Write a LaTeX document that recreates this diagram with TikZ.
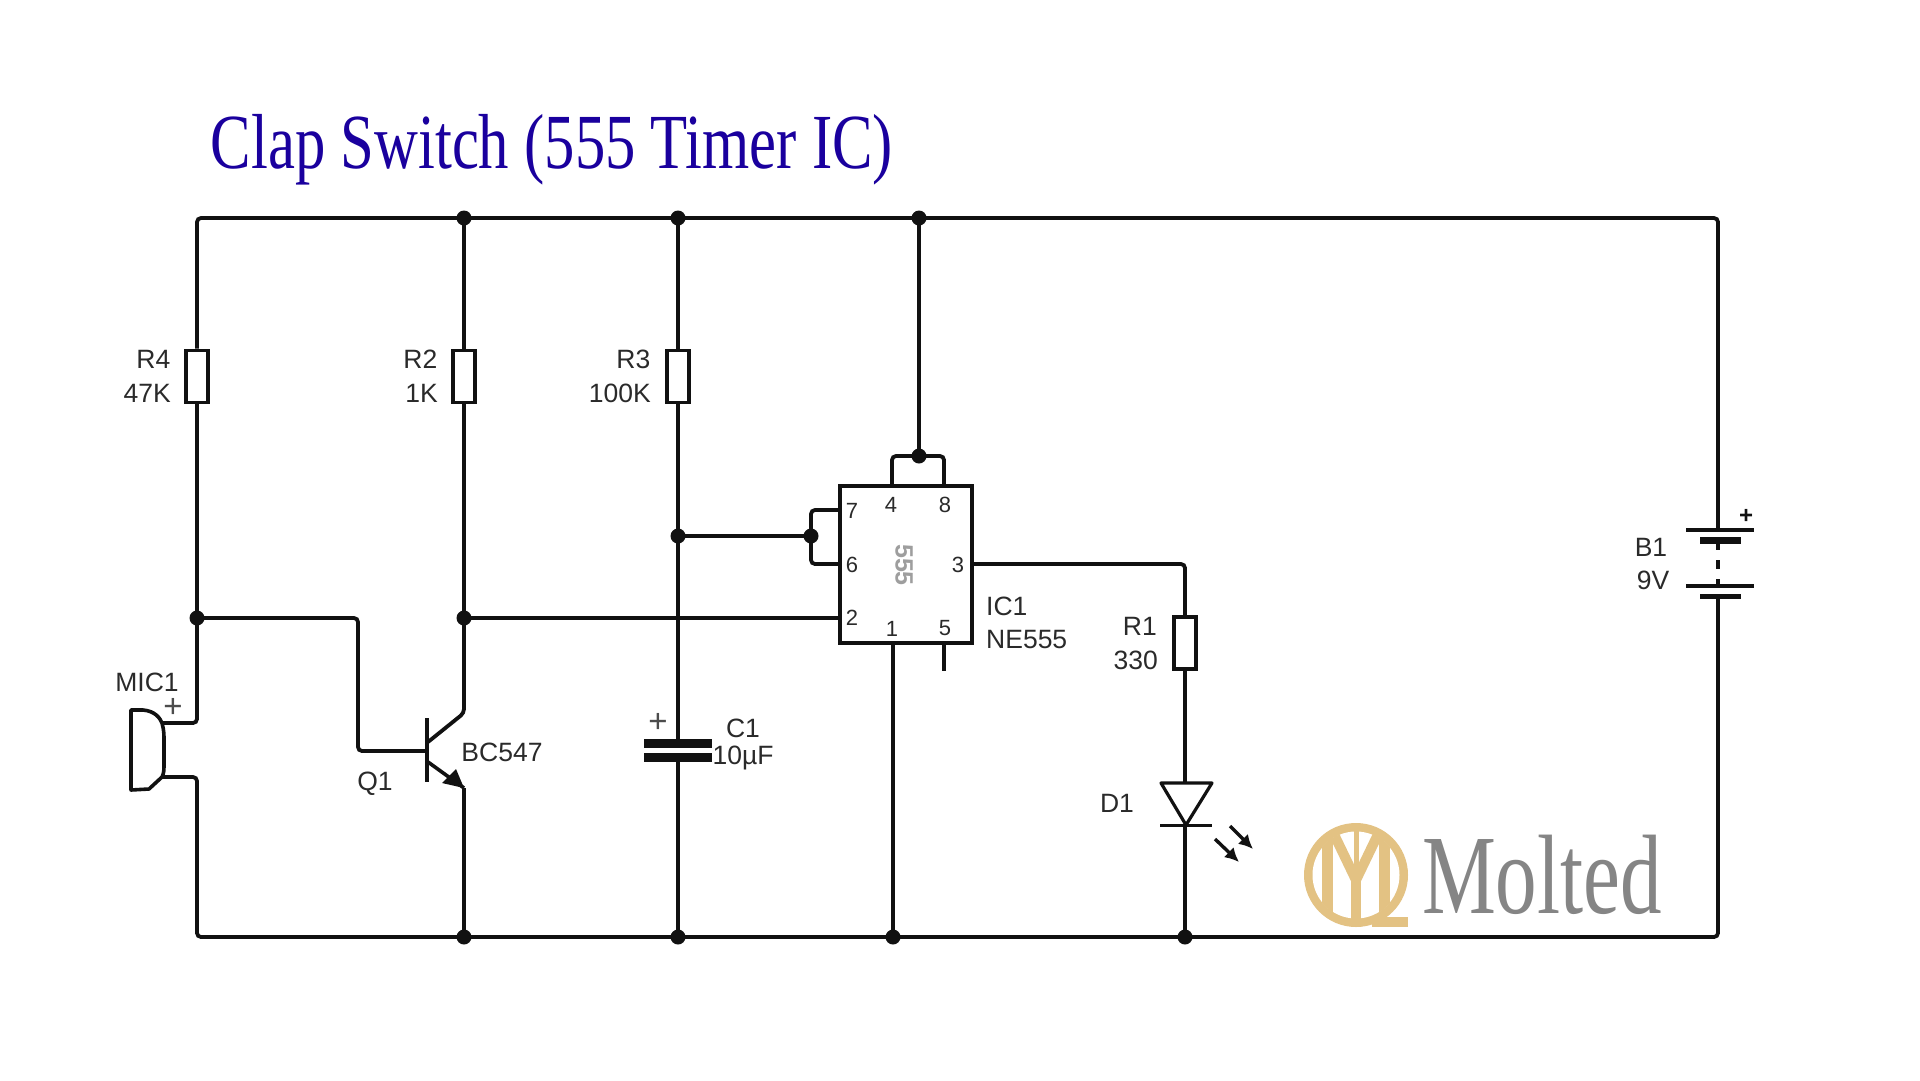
\documentclass[tikz,border=0pt]{standalone}
\usepackage{fontspec}
\setmainfont{Liberation Sans}
\newfontfamily\titlefont{Liberation Serif}
\usetikzlibrary{arrows.meta}
\definecolor{inkc}{HTML}{111111}
\definecolor{labelc}{HTML}{2A2A2A}
\definecolor{titlec}{HTML}{1A009E}
\definecolor{goldc}{HTML}{E3C283}
\definecolor{brandc}{HTML}{858585}
\tikzset{
  wire/.style={draw=inkc,line width=3.8pt,rounded corners=4pt},
  dotnode/.style={circle,fill=inkc,draw=none,inner sep=0pt,minimum size=15pt},
  resbox/.style={rectangle,draw=inkc,fill=white,line width=3.6pt,inner sep=0pt,minimum width=22pt,minimum height=52pt},
  lab/.style={text=labelc,inner sep=0pt,font=\fontsize{26.5}{30}\selectfont},
  pinlab/.style={text=labelc,inner sep=0pt,font=\fontsize{22}{24}\selectfont},
  pluslab/.style={text=black!70,inner sep=0pt,font=\fontsize{33}{33}\selectfont},
  plate/.style={draw=inkc,line cap=butt},
}
\begin{document}
\begin{tikzpicture}[x=1pt,y=-1pt]
\useasboundingbox (0,0) rectangle (1920,1080);
\fill[white] (0,0) rectangle (1920,1080);

% title
\node[anchor=base,inner sep=0pt,text=titlec] (title) at (552,168) {\titlefont\fontsize{78}{90}\selectfont\scalebox{.778}[1]{Clap Switch (555 Timer IC)}};

% frame corners
\coordinate (tl) at (197,218);
\coordinate (tr) at (1718,218);
\coordinate (bl) at (197,937);
\coordinate (br) at (1718,937);

% junctions
\node[dotnode] (jt2) at (464,218) {};
\node[dotnode] (jt3) at (678,218) {};
\node[dotnode] (jt4) at (919,218) {};
\node[dotnode] (jb2) at (464,937) {};
\node[dotnode] (jb3) at (678,937) {};
\node[dotnode] (jb1) at (893,937) {};
\node[dotnode] (jb5) at (1185,937) {};
\node[dotnode] (jm1) at (197,618) {};
\node[dotnode] (jm2) at (464,618) {};
\node[dotnode] (jm3) at (678,536) {};
\node[dotnode] (jp76) at (811,536) {};
\node[dotnode] (jp48) at (919,456) {};

% resistors
\node[resbox] (R4) at (197,376.5) {};
\node[resbox] (R2) at (464,376.5) {};
\node[resbox] (R3) at (678,376.5) {};
\node[resbox] (R1) at (1185,643) {};
\node[lab,anchor=east] (tR4) at (170.5,359.5) {R4};
\node[lab,anchor=east] (vR4) at (171,393) {47K};
\node[lab,anchor=east] (tR2) at (437.5,359.5) {R2};
\node[lab,anchor=east] (vR2) at (438,393) {1K};
\node[lab,anchor=east] (tR3) at (650.5,359.5) {R3};
\node[lab,anchor=east] (vR3) at (651,393) {100K};
\node[lab,anchor=east] (tR1) at (1157,626.5) {R1};
\node[lab,anchor=east] (vR1) at (1158,660) {330};

% IC
\node[rectangle,draw=inkc,fill=white,line width=3.6pt,inner sep=0pt,minimum width=132pt,minimum height=157pt] (IC) at (906,564.5) {};
\coordinate (p4) at (892,486);
\coordinate (p8) at (944,486);
\coordinate (p7) at (840,510);
\coordinate (p6) at (840,564);
\coordinate (p2) at (840,618);
\coordinate (p3) at (972,564);
\coordinate (p1) at (893,643);
\coordinate (p5) at (944,643);
\coordinate (p5e) at (944,671);
\node[pinlab] (n7) at (852,511) {7};
\node[pinlab] (n6) at (852,565) {6};
\node[pinlab] (n2) at (852,618) {2};
\node[pinlab] (n4) at (891,505) {4};
\node[pinlab] (n8) at (945,505) {8};
\node[pinlab] (n1) at (892,629) {1};
\node[pinlab] (n5) at (945,628) {5};
\node[pinlab] (n3) at (958,565) {3};
\node[inner sep=0pt,rotate=-90,text=black!38,font=\bfseries\fontsize{25}{25}\selectfont] (n555) at (904,565) {555};
\node[lab,anchor=west] (tIC) at (986,606) {IC1};
\node[lab,anchor=west] (vIC) at (986,640) {NE555};

% rails
\draw[wire] (R4.north) -- (tl) -- (tr) -- (1718,530);
\draw[wire] (R2.north) -- (jt2.center);
\draw[wire] (R3.north) -- (jt3.center);
\draw[wire] (jt4.center) -- (jp48.center);
\draw[wire] (jp48.center) -| (p4);
\draw[wire] (jp48.center) -| (p8);
\draw[wire] (R4.south) -- (jm1.center);
\draw[wire] (R2.south) -- (jm2.center);
\draw[wire] (R3.south) -- (jm3.center);
\draw[wire] (jm3.center) -- (jp76.center);
\draw[wire] (jp76.center) |- (p7);
\draw[wire] (jp76.center) |- (p6);
\draw[wire] (jm2.center) -- (p2);
\draw[wire] (p3) -| (R1.north);
\draw[wire] (p1) -- (jb1.center);
\draw[wire] (p5) -- (p5e);

% microphone
\coordinate (micu) at (162,723);
\coordinate (micl) at (163,777);
\draw[wire] (jm1.center) |- (micu);
\draw[wire] (micl) -| (bl) -- (br) -- (1718,596);
\draw[draw=inkc,line width=3.6pt,line join=round] (131,710) -- (143,710) .. controls (155,711) and (160,718) .. (162,723) .. controls (164,730) and (164,735) .. (164,740) -- (164,763) .. controls (164,770) and (164,773) .. (162,777) -- (149,789) -- (131,790) -- cycle;
\node[pluslab] (mp) at (173,708) {+};
\node[lab] (tM) at (147,682) {MIC1};

% transistor
\coordinate (bw) at (358,751);
\coordinate (bb) at (427,751);
\coordinate (bt) at (427,718);
\coordinate (bd) at (427,782);
\coordinate (ci) at (428,742);
\coordinate (cj) at (464,713);
\coordinate (ei) at (428,762);
\coordinate (ej) at (464,788);
\coordinate (eh1) at (442,783);
\coordinate (eh2) at (456,769);
\draw[wire] (jm1.center) -| (bw) -- (bb);
\draw[draw=inkc,line width=3.8pt] (bt) -- (bd);
\draw[wire] (jm2.center) -- (cj) -- (ci);
\draw[draw=inkc,line width=3.6pt] (ei) -- (ej);
\fill[inkc] (ej) -- (eh1) -- (eh2) -- cycle;
\draw[wire] (ej) -- (jb2.center);
\node[lab] (tQ) at (375,784) {Q1};
\node[lab] (vQ) at (502,752) {BC547};

% capacitor
\coordinate (c1a) at (678,743);
\coordinate (c1b) at (678,757);
\draw[wire] (jm3.center) -- (c1a);
\draw[wire] (c1b) -- (jb3.center);
\draw[plate,line width=9pt] (644,743) -- (712,743);
\draw[plate,line width=9pt] (644,757.5) -- (712,757.5);
\node[pluslab] (cp) at (658,723) {+};
\node[lab] (tC) at (743,728) {C1};
\node[lab] (vC) at (743,758) {10µF};

% LED
\coordinate (da) at (1185,783);
\coordinate (dk) at (1185,825);
\draw[wire] (R1.south) -- (da);
\draw[draw=inkc,fill=white,line width=3.2pt,line join=round] (1161,783) -- (1212,783) -- (1186,825) -- cycle;
\draw[plate,line width=3.6pt] (1160,825.5) -- (1212,825.5);
\draw[wire] (dk) -- (jb5.center);
\node[lab] (tD) at (1117,803) {D1};
\coordinate (a1s) at (1230,826);
\coordinate (a1e) at (1253,849);
\coordinate (a2s) at (1215,839);
\coordinate (a2e) at (1239,862);
\draw[draw=inkc,line width=3.4pt,-{Latex[length=14pt,width=14pt]}] (a1s) -- (a1e);
\draw[draw=inkc,line width=3.4pt,-{Latex[length=14pt,width=14pt]}] (a2s) -- (a2e);

% battery
\draw[plate,line width=3.2pt] (1686,530) -- (1754,530);
\draw[plate,line width=7pt] (1700,540) -- (1741,540);
\draw[plate,line width=3.6pt] (1718,540) -- (1718,550);
\draw[plate,line width=3.6pt] (1718,560) -- (1718,569);
\draw[plate,line width=3.6pt] (1718,579) -- (1718,586);
\draw[plate,line width=3.2pt] (1686,586) -- (1754,586);
\draw[plate,line width=5pt] (1700,596) -- (1741,596);
\node[inner sep=0pt,text=inkc,font=\bfseries\fontsize{24}{24}\selectfont] (bp) at (1746,516) {+};
\node[lab] (tB) at (1651,547) {B1};
\node[lab] (vB) at (1653,580) {9V};

% brand
\begin{scope}
\fill[goldc] (1356,875) circle[radius=52];
\fill[goldc] (1372,917) rectangle (1408,926.5);
\fill[white] (1356,875) circle[radius=43.5];
\clip (1356,875) circle[radius=44];
\fill[goldc] (1322,825) rectangle (1333,925);
\fill[goldc] (1379,825) rectangle (1390,925);
\fill[goldc] (1351,872) rectangle (1361,925);
\draw[goldc,line width=10pt] (1356,880) -- (1330,826);
\draw[goldc,line width=10pt] (1356,880) -- (1382,826);
\draw[goldc,line width=5pt] (1356,822) -- (1356,870);
\end{scope}
\node[anchor=base,inner sep=0pt,text=brandc] (brand) at (1542,913) {\titlefont\fontsize{113}{120}\selectfont\scalebox{.735}[1]{Molted}};
\end{tikzpicture}
\end{document}
